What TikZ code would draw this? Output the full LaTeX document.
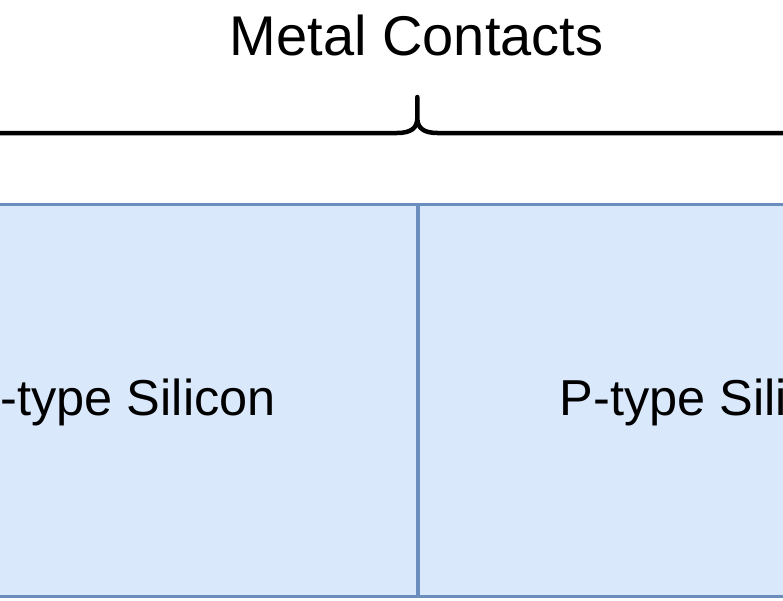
\documentclass[tikz,border=0pt]{standalone}
\usepackage{fontspec}
\setmainfont{Liberation Sans}
\definecolor{boxfill}{HTML}{DAE8FC}
\definecolor{boxline}{HTML}{6C8EBF}
\begin{document}
\begin{tikzpicture}[x=1pt,y=-1pt,
  layerbox/.style={draw=boxline,fill=boxfill,line width=3.5pt,minimum height=392pt,inner sep=0pt,
    font=\fontsize{50.5}{56}\selectfont,text height=36pt,text depth=6pt},
  titletext/.style={font=\fontsize{56}{60}\selectfont,inner sep=0pt,anchor=base},
  bracepath/.style={line width=4.5pt,line cap=round,line join=round}]
\useasboundingbox (0,0) rectangle (783,600);
\fill[white] (0,0) rectangle (783,600);
\node[layerbox,minimum width=596pt] (n) at (120,400.5) {N-type Silicon};
\node[layerbox,minimum width=592pt] (p) at (714,400.5) {P-type Silicon};
\node[titletext] (t) at (416.7,55) {Metal Contacts};
\coordinate (bl) at (-60,133);
\coordinate (br) at (850,133);
\coordinate (tip) at (417.3,97);
\draw[bracepath] (bl) -- (397,133) .. controls (411,133) and (417.3,128) .. (417.3,118) -- (tip)
  (417.3,118) .. controls (417.3,128) and (423.6,133) .. (437.6,133) -- (br);
\end{tikzpicture}
\end{document}
